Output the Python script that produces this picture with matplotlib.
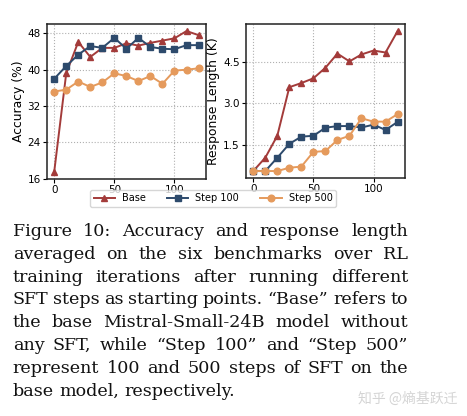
import numpy as np
import matplotlib.pyplot as plt

steps = [0, 10, 20, 30, 40, 50, 60, 70, 80, 90, 100, 110, 120]

acc_base = [17.5, 39.2, 46.1, 42.8, 44.8, 44.8, 45.8, 45.3, 45.9, 46.4, 46.9, 48.5, 47.6]
acc_step100 = [38.0, 40.8, 43.3, 45.2, 44.8, 47.0, 44.6, 47.0, 45.0, 44.6, 44.5, 45.4, 45.4]
acc_step500 = [35.2, 35.6, 37.4, 36.2, 37.2, 39.2, 38.6, 37.5, 38.6, 36.9, 39.8, 40.0, 40.3]

len_base = [0.56, 1.04, 1.83, 3.58, 3.73, 3.90, 4.28, 4.79, 4.51, 4.76, 4.90, 4.83, 5.60]
len_step100 = [0.56, 0.56, 1.04, 1.54, 1.80, 1.83, 2.12, 2.18, 2.18, 2.13, 2.23, 2.04, 2.33]
len_step500 = [0.56, 0.56, 0.56, 0.68, 0.72, 1.25, 1.28, 1.68, 1.83, 2.46, 2.34, 2.34, 2.61]

labels = ["Base", "Step 100", "Step 500"]
colors = ["#a33b3a", "#2d4a6c", "#e59a5c"]
markers = ["^", "s", "o"]

caption_lines = [
    "Figure 10:  Accuracy and response length",
    "averaged on the six benchmarks over RL",
    "training iterations after running different",
    "SFT steps as starting points. \u201cBase\u201d refers to",
    "the base Mistral-Small-24B model without",
    "any SFT, while \u201cStep 100\u201d and \u201cStep 500\u201d",
    "represent 100 and 500 steps of SFT on the",
    "base model, respectively.",
]

fig = plt.figure(figsize=(4.67, 4.16), dpi=100)
ax1 = fig.add_axes([0.1006, 0.5697, 0.340, 0.3726])
ax2 = fig.add_axes([0.5268, 0.5720, 0.340, 0.3700])

acc_series = [acc_base, acc_step100, acc_step500]
len_series = [len_base, len_step100, len_step500]

for ax, series in [(ax1, acc_series), (ax2, len_series)]:
    for vals, lab, c, m in zip(series, labels, colors, markers):
        ax.plot(steps, vals, color=c, marker=m, markersize=4.8, linewidth=1.4, label=lab)
    ax.grid(True, linestyle=":", color="#b0b0b0", linewidth=0.8)
    ax.set_xticks([0, 50, 100])
    ax.tick_params(labelsize=7.5, length=3, width=0.8, pad=1.5)
    for s in ax.spines.values():
        s.set_linewidth(1.1)
        s.set_color("#222222")

ax1.set_yticks([16, 24, 32, 40, 48])
ax1.set_ylabel("Accuracy (%)", fontsize=8.9, labelpad=2)
ax2.set_yticks([1.5, 3.0, 4.5])
ax2.set_ylabel("Response Length (K)", fontsize=8.9, labelpad=2)

handles, labs = ax1.get_legend_handles_labels()
fig.legend(handles, labs, loc="center", ncol=3, bbox_to_anchor=(0.456, 0.523),
           fontsize=7, frameon=True, edgecolor="#cccccc", fancybox=True,
           handlelength=2.2, columnspacing=2.2, borderpad=0.35, handletextpad=0.7)

# justified caption, drawn word by word
renderer = fig.canvas.get_renderer()
left_px, right_px = 12.7, 408.0
base0, line_gap = 236.0, 22.8
W, H = 467.0, 416.0
cap_font = dict(fontsize=12.6, family="DejaVu Serif", color="#111111")
space_w = 5.5
for i, line in enumerate(caption_lines):
    y = 1 - (base0 + i * line_gap) / H
    words = [w for w in line.split(" ") if w != ""]
    texts = [fig.text(0, y, w, va="baseline", ha="left", **cap_font) for w in words]
    widths = [t.get_window_extent(renderer).width for t in texts]
    if i == len(caption_lines) - 1:
        gap = space_w
    else:
        gap = (right_px - left_px - sum(widths)) / (len(words) - 1)
    x = left_px
    for t, w in zip(texts, widths):
        t.set_x(x / W)
        x += w + gap

fig.text(457 / W, 1 - 403 / H, "知乎 @熵基跃迁", ha="right", va="baseline",
         fontsize=10, color="#d4d4d4", family=["Noto Sans CJK SC", "DejaVu Sans"])

fig.savefig("out.png", dpi=100)
